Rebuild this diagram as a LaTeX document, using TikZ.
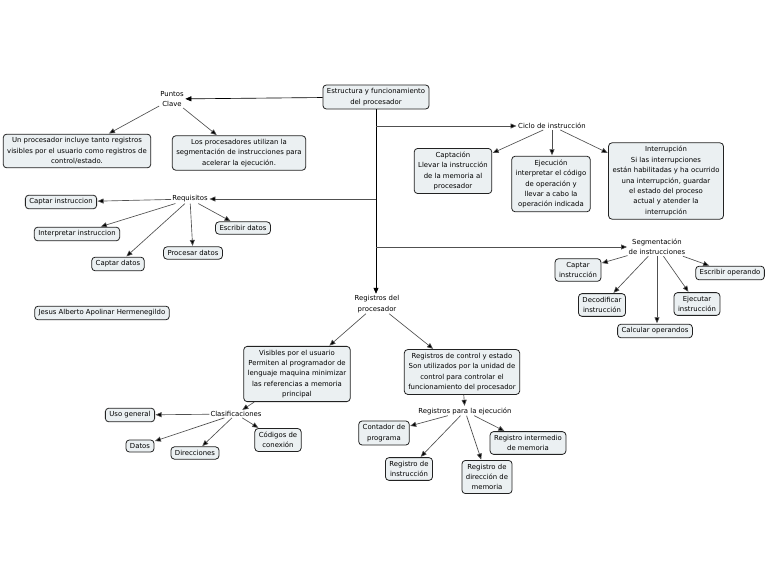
\documentclass[tikz,border=0pt]{standalone}
\usepackage{fontspec}
\setmainfont{DejaVu Sans}
\usetikzlibrary{arrows.meta}
\definecolor{boxfill}{HTML}{EBF0F2}
\definecolor{boxline}{HTML}{222222}
\definecolor{linkc}{HTML}{505050}
\begin{document}
\begin{tikzpicture}[x=1pt,y=-1pt,
  every node/.style={font=\fontsize{6.9}{10.4}\selectfont, align=center, inner sep=1.5pt},
  box/.style={draw=boxline, fill=boxfill, rounded corners=3.5pt, line width=0.8pt, inner xsep=4pt, inner ysep=3.5pt},
  lbl/.style={fill=white, inner sep=1pt},
  arr/.style={draw=linkc, line width=0.65pt, -{Triangle[length=6pt,width=5pt,fill=black]}, shorten >=0.5pt}]
\useasboundingbox (0,0) rectangle (768,578);
\fill[white] (0,0) rectangle (768,578);

% nodes
\node[box] (root) at (376,97) {Estructura y funcionamiento\\del procesador};
\node[lbl] (puntos) at (172,99) {Puntos\\Clave};
\node[box] (pk1) at (77,151) {Un procesador incluye tanto registros\\visibles por el usuario como registros de\\control/estado.};
\node[box] (pk2) at (239,153) {Los procesadores utilizan la\\segmentación de instrucciones para\\acelerar la ejecución.};

\node[lbl] (ciclo) at (552,126) {Ciclo de instrucción};
\node[box] (capt) at (453,171) {Captación\\Llevar la instrucción\\de la memoria al\\procesador};
\node[box] (ejec) at (551,184) {Ejecución\\interpretar el código\\de operación y\\llevar a cabo la\\operación indicada};
\node[box] (intr) at (666,181) {Interrupción\\Si las interrupciones\\están habilitadas y ha ocurrido\\una interrupción, guardar\\el estado del proceso\\actual y atender la\\interrupción};

\node[lbl] (req) at (190,199) {Requisitos};
\node[box] (r1) at (61,202) {Captar instruccion};
\node[box] (r2) at (77,234) {Interpretar instruccion};
\node[box] (r3) at (118,264) {Captar datos};
\node[box] (r4) at (193,253) {Procesar datos};
\node[box] (r5) at (243,228) {Escribir datos};

\node[box] (autor) at (102,313) {Jesus Alberto Apolinar Hermenegildo};

\node[lbl] (segm) at (657,247) {Segmentación\\de instrucciones};
\node[box] (s1) at (578,270) {Captar\\instrucción};
\node[box] (s2) at (602,305) {Decodificar\\instrucción};
\node[box] (s3) at (655,331) {Calcular operandos};
\node[box] (s4) at (697,304) {Ejecutar\\instrucción};
\node[box] (s5) at (730,273) {Escribir operando};

\node[lbl] (regp) at (377,304) {Registros del\\procesador};
\node[box] (vis) at (297,374) {Visibles por el usuario\\Permiten al programador de\\lenguaje maquina minimizar\\las referencias a memoria\\principal};
\node[box] (ctrl) at (462,372) {Registros de control y estado\\Son utilizados por la unidad de\\control para controlar el\\funcionamiento del procesador};

\node[lbl] (clas) at (236,414) {Clasificaciones};
\node[box] (c1) at (130,415) {Uso general};
\node[box] (c2) at (140,446) {Datos};
\node[box] (c3) at (195,453) {Direcciones};
\node[box] (c4) at (278,440) {Códigos de\\conexión};

\node[lbl] (rej) at (465,411) {Registros para la ejecución};
\node[box] (e1) at (384,433) {Contador de\\programa};
\node[box] (e2) at (409,469) {Registro de\\instrucción};
\node[box] (e3) at (487,477) {Registro de\\dirección de\\memoria};
\node[box] (e4) at (528,443) {Registro intermedio\\de memoria};

% connectors
\draw[arr,draw=black] (root) -- (puntos);
\draw[arr] (puntos) -- (pk1);
\draw[arr] (puntos) -- (pk2);

\draw[arr,draw=black] (root.south) -- (regp.north -| root.south);
\draw[arr] (root.south |- ciclo.west) -- (ciclo.west);
\draw[arr] (root.south |- req.east) -- (req.east);
\draw[arr] (root.south |- segm.west) -- (segm.west);

\draw[arr] (ciclo) -- (capt);
\draw[arr] (ciclo.south) -- (ejec.north -| ciclo.south);
\draw[arr] (ciclo) -- (intr);

\draw[arr] (req) -- (r1);
\draw[arr] (req) -- (r2);
\draw[arr] (req) -- (r3);
\draw[arr] (req) -- (r4);
\draw[arr] (req) -- (r5);

\draw[arr] (segm) -- (s1);
\draw[arr] (segm) -- (s2);
\draw[arr] (segm.south) -- (s3.north -| segm.south);
\draw[arr] (segm) -- (s4);
\draw[arr] (segm) -- (s5);

\draw[arr] (regp) -- (vis);
\draw[arr] (regp) -- (ctrl);
\draw[arr] (vis) -- (clas);
\draw[arr] (clas) -- (c1);
\draw[arr] (clas) -- (c2);
\draw[arr] (clas) -- (c3);
\draw[arr] (clas) -- (c4);

\draw[arr] (ctrl) -- (rej);
\draw[arr] (rej) -- (e1);
\draw[arr] (rej) -- (e2);
\draw[arr] (rej) -- (e3);
\draw[arr] (rej) -- (e4);
\end{tikzpicture}
\end{document}
